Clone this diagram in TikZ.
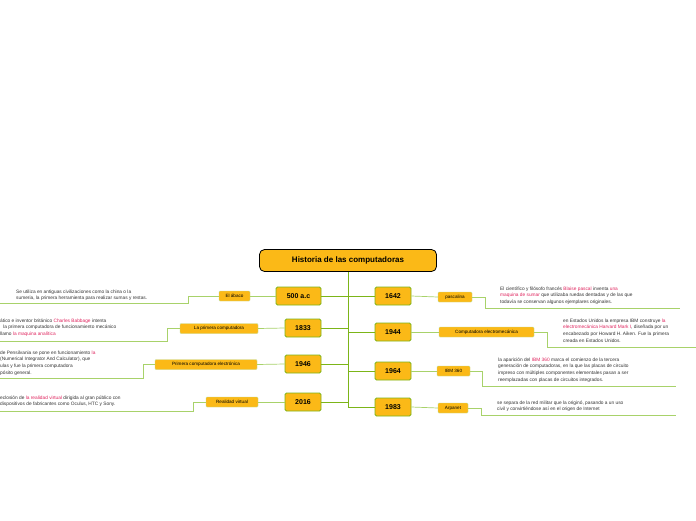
\documentclass[tikz,border=0pt]{standalone}
\usepackage{fontspec}
\setmainfont{Liberation Sans}
\begin{document}
\begin{tikzpicture}[x=1pt,y=-1pt,
  ln/.style={draw=lgreen,line width=0.7pt},
  title/.style={draw=black,fill=orng,rounded corners=5pt,line width=0.8pt,minimum width=177pt,minimum height=22pt,font=\bfseries\fontsize{8}{9}\selectfont},
  yr/.style={draw=dgreen,fill=orng,rounded corners=1.5pt,line width=0.8pt,minimum width=36pt,minimum height=18pt,font=\bfseries\fontsize{7}{8}\selectfont,inner sep=0},
  lb/.style={draw=lgreen!70,fill=orng,rounded corners=1pt,line width=0.4pt,minimum height=10pt,inner sep=2pt,font=\fontsize{4.6}{5}\selectfont},
  tx/.style={inner sep=0,anchor=north west,align=left,text=txt,font=\fontsize{4.8}{6.7}\selectfont}]
\definecolor{orng}{HTML}{FBB917}
\definecolor{lgreen}{HTML}{A8D26A}
\definecolor{dgreen}{HTML}{7CB518}
\definecolor{txt}{HTML}{333333}
\definecolor{hl}{HTML}{E0245E}
\useasboundingbox (0,0) rectangle (696,520);
\fill[white] (0,0) rectangle (696,520);
% trunk
\coordinate (t0) at (348,272);
\coordinate (t1) at (348,407);
\draw[line width=1pt,draw=dgreen] (t0) -- (t1);
\node[title] (T) at (348,260.5) {Historia de las computadoras};
% years
\node[yr,minimum width=45pt] (y1) at (298.5,296) {500 a.c};
\node[yr] (y2) at (303,328) {1833};
\node[yr] (y3) at (303,364) {1946};
\node[yr] (y4) at (303,402) {2016};
\node[yr] (y5) at (393,296) {1642};
\node[yr] (y6) at (393,332) {1944};
\node[yr] (y7) at (393,371) {1964};
\node[yr] (y8) at (393,407) {1983};
\foreach \n/\y in {y1/296,y2/328,y3/364,y4/402,y5/296,y6/332,y7/371,y8/407}{
  \draw[line width=0.8pt,draw=dgreen] (348,\y) -- (\n);}
% labels
\node[lb,minimum width=31pt] (l1) at (234.5,296) {El ábaco};
\node[lb,minimum width=78pt] (l2) at (219,328.5) {La primera computadora};
\node[lb,minimum width=102pt] (l3) at (206,364.5) {Primera computadora electrónica};
\node[lb,minimum width=52pt] (l4) at (232,402) {Realidad virtual};
\node[lb,minimum width=34pt] (l5) at (455,297) {pascalina};
\node[lb,minimum width=95pt] (l6) at (486.5,332) {Computadora electromecánica};
\node[lb,minimum width=33pt] (l7) at (453.5,371) {IBM 360};
\node[lb,minimum width=30pt] (l8) at (453,408) {Arpanet};
\draw[ln] (y1.west) -- (l1.east);
\draw[ln] (y2.west) -- (l2.east);
\draw[ln] (y3.west) -- (l3.east);
\draw[ln] (y4.west) -- (l4.east);
\draw[ln] (y5.east) -- (l5.west);
\draw[ln] (y6.east) -- (l6.west);
\draw[ln] (y7.east) -- (l7.west);
\draw[ln] (y8.east) -- (l8.west);
% underline connectors
\coordinate (u1) at (0,303); \draw[ln] (l1.west) -- (188,296) -- (188,303) -- (u1);
\coordinate (u2) at (0,341); \draw[ln] (l2.west) -- (167,328.5) -- (167,341) -- (u2);
\coordinate (u3) at (0,378); \draw[ln] (l3.west) -- (143,364.5) -- (143,378) -- (u3);
\coordinate (u4) at (0,411); \draw[ln] (l4.west) -- (193,402) -- (193,411) -- (u4);
\coordinate (u5) at (680,308); \draw[ln] (l5.east) -- (485,297) -- (485,308) -- (u5);
\coordinate (u6) at (696,347); \draw[ln] (l6.east) -- (547,332) -- (547,347) -- (u6);
\coordinate (u7) at (676,386); \draw[ln] (l7.east) -- (482,371) -- (482,386) -- (u7);
\coordinate (u8) at (676,415); \draw[ln] (l8.east) -- (481,408) -- (481,415) -- (u8);
% texts
\node[tx] (x1) at (16,289.5) {Se utiliza en antiguas civilizaciones como la china o la\\sumeria, la primera herramienta para realizar sumas y restas.};
\node[tx] (x2) at (0,318.5) {ático e inventor británico \textcolor{hl}{Charles Babbage} intenta\\\hspace*{3pt}la primera computadora de funcionamiento mecánico\\llamo \textcolor{hl}{la maquina analítica}};
\node[tx] (x3) at (0,350.5) {de Pensilvania se pone en funcionamiento \textcolor{hl}{la}\\(Numerical Integrator And Calculator), que\\ulas y fue la primera computadora\\pósito general.};
\node[tx] (x4) at (0,395.5) {eclosión de \textcolor{hl}{la realidad virtual} dirigida al gran público con\\dispositivos de fabricantes como Oculus, HTC y Sony.};
\node[tx] (x5) at (500,286.5) {El científico y filósofo francés \textcolor{hl}{Blaise pascal} inventa \textcolor{hl}{una}\\\textcolor{hl}{maquina de sumar} que utilizaba ruedas dentadas y de las que\\todavía se conservan algunos ejemplares originales.};
\node[tx] (x6) at (563,318.5) {en Estados Unidos la empresa IBM construye \textcolor{hl}{la}\\\textcolor{hl}{electromecánica Harvard Mark I}, diseñada por un\\encabezado por Howard H. Aiken. Fue la primera\\creada en Estados Unidos.};
\node[tx] (x7) at (498,357.5) {la aparición del \textcolor{hl}{IBM 360} marca el comienzo de la tercera\\generación de computadoras, en la que las placas de circuito\\impreso con múltiples componentes elementales pasan a ser\\reemplazadas con placas de circuitos integrados.};
\node[tx] (x8) at (497,400.5) {se separa de la red militar que la originó, pasando a un uso\\civil y convirtiéndose así en el origen de Internet};
\end{tikzpicture}
\end{document}
